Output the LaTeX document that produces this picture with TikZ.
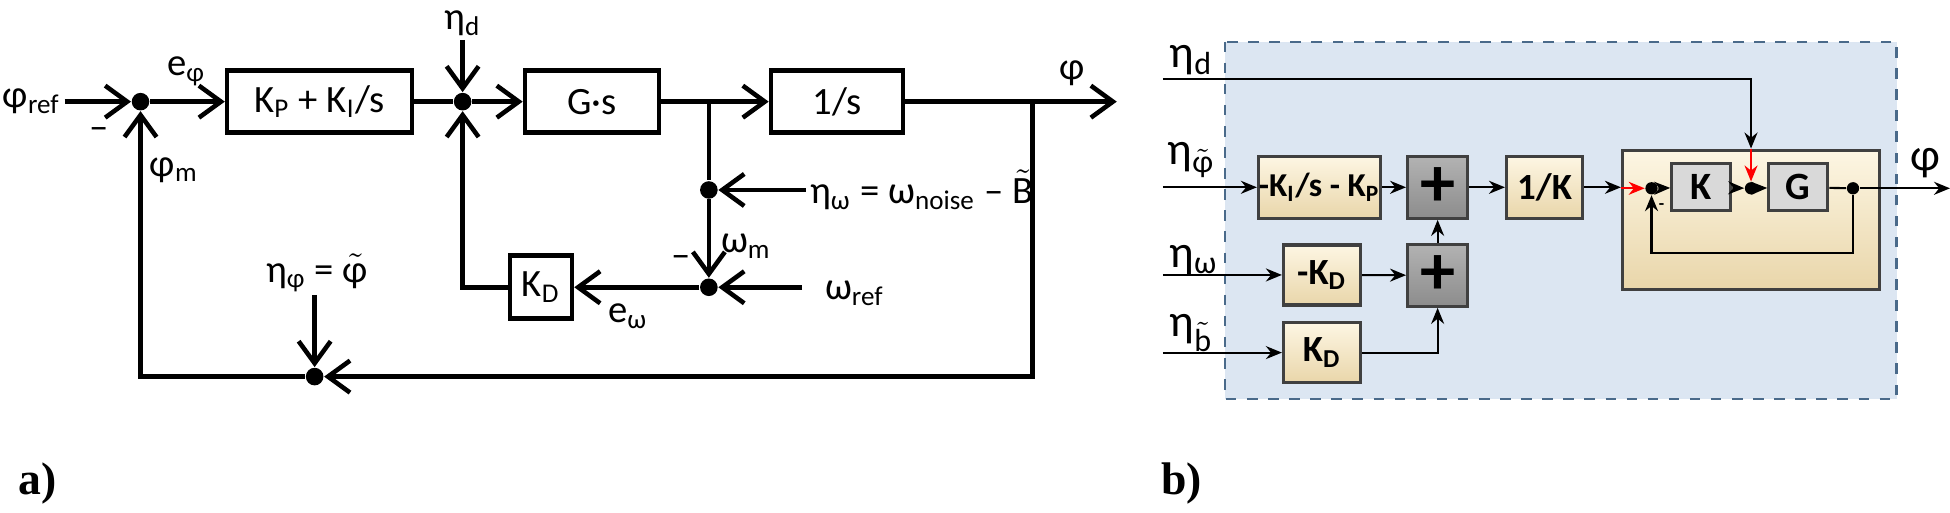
\documentclass[tikz,border=0pt]{standalone}
\usepackage{fontspec}
\setmainfont{Carlito}
\newfontfamily\serifbf{Liberation Serif}
\usetikzlibrary{arrows.meta,positioning}
\newcommand{\sub}[1]{\textsubscript{#1}}
\newcommand{\tld}[1]{\ensuremath{\tilde{\hbox{#1}}}}
\definecolor{panelblue}{HTML}{DCE6F2}
\definecolor{edgeblue}{HTML}{4A6A8A}
\definecolor{creamtop}{HTML}{FDF6E3}
\definecolor{creambot}{HTML}{E9D6AA}
\tikzset{
  sig/.style={line width=1.3pt,-{Straight Barb[length=2.2mm,width=3.2mm,line width=1.3pt]}},
  wire/.style={line width=1.3pt},
  blk/.style={draw,line width=1.3pt,inner sep=0pt,minimum height=6.2mm,font=\fontsize{11}{11}\selectfont},
  dot/.style={circle,fill,inner sep=0pt,minimum size=5pt},
  lbl/.style={font=\fontsize{11}{11}\selectfont,inner sep=1pt},
  big/.style={font=\fontsize{13}{13}\selectfont,inner sep=1pt},
  sml/.style={line width=0.6pt,-{Stealth[length=1.6mm,width=1.3mm]}},
  cream/.style={draw=black!75,line width=0.9pt,top color=creamtop,bottom color=creambot,inner sep=0pt,font=\bfseries\fontsize{10.5}{10.5}\selectfont},
  plus/.style={draw=black!75,line width=0.9pt,top color=black!30,bottom color=black!45,inner sep=0pt,minimum width=6mm,minimum height=6.2mm,font=\bfseries\fontsize{20}{20}\selectfont},
  gbox/.style={draw=black!75,line width=0.9pt,fill=black!15,inner sep=0pt,minimum width=5.9mm,minimum height=4.7mm,font=\bfseries\fontsize{11}{11}\selectfont},
  sdot/.style={circle,fill,inner sep=0pt,minimum size=3.5pt}
}
\begin{document}
\begin{tikzpicture}[x=0.12436mm,y=-0.03333mm]
\useasboundingbox (0,0) rectangle (1568,1539);

% a) cascade with derivative feedback
\coordinate (phiin) at (52,305);
\node[dot] (sum1) at (113,305) {};
\node[blk,minimum width=18.5mm] (pid) at (257,305) {K\sub{P} + K\sub{I}/s};
\node[dot] (junc) at (372,305) {};
\node[blk,minimum width=13.4mm] (gs) at (476,305) {G·s};
\coordinate (wtap) at (570,305);
\node[blk,minimum width=13.2mm] (integ) at (673,305) {1/s};
\coordinate (phitap) at (830,305);
\coordinate (phiout) at (898,305);
\coordinate (ndin) at (372,120);
\node[dot] (nwdot) at (570,570) {};
\coordinate (nwin) at (648,570);
\node[dot] (wdot) at (570,862) {};
\coordinate (wrefin) at (645,862);
\node[blk,minimum width=6.2mm,minimum height=6.3mm] (kd) at (435,862) {K\sub{D}};
\node[dot] (fbdot) at (253,1130) {};
\coordinate (npin) at (253,885);

\draw[sig] (phiin) -- (sum1);
\draw[sig] (sum1) -- (pid);
\draw[wire] (pid) -- (junc);
\draw[sig] (junc) -- (gs);
\draw[sig] (gs) -- (integ);
\draw[sig] (integ) -- (phiout);
\draw[sig] (ndin) -- (junc);
\draw[wire] (wtap) -- (nwdot);
\draw[sig] (nwdot) -- (wdot);
\draw[sig] (nwin) -- (nwdot);
\draw[sig] (wrefin) -- (wdot);
\draw[sig] (wdot) -- (kd);
\draw[sig] (kd) -| (junc);
\draw[sig] (phitap) |- (fbdot);
\draw[sig] (npin) -- (fbdot);
\draw[sig] (fbdot) -| (sum1);

\node[lbl,left] at (phiin) {φ\sub{ref}};
\node[lbl] at (150,215) {e\sub{φ}};
\node[lbl] at (80,400) {–};
\node[lbl] at (140,510) {φ\sub{m}};
\node[lbl,above] at (ndin) {η\sub{d}};
\node[lbl] at (862,220) {φ};
\node[lbl,right] at (nwin) {η\sub{ω} = ω\sub{noise} – \tld{B}};
\node[lbl] at (600,740) {ω\sub{m}};
\node[lbl] at (548,785) {–};
\node[lbl,right] at (660,880) {ω\sub{ref}};
\node[lbl] at (505,950) {e\sub{ω}};
\node[lbl] at (255,820) {η\sub{φ} = \tld{φ}};

% b) equivalent noise model
\fill[panelblue] (985,125) rectangle (1525,1198);
\draw[edgeblue,dashed,line width=0.6pt] (985,125) rectangle (1525,1198);
\node[cream,minimum width=12.2mm,minimum height=6.2mm,font=\bfseries\fontsize{9.5}{9.5}\selectfont] (pidn) at (1061,562) {-K\sub{I}/s - K\sub{P}};
\node[plus] (add1) at (1156,562) {+};
\node[cream,minimum width=7.6mm,minimum height=6.2mm] (invk) at (1242,562) {1/K};
\node[cream,minimum width=25.7mm,minimum height=13.9mm] (plant) at (1408,659) {};
\node[cream,minimum width=7.7mm,minimum height=6mm] (kdn) at (1063,825) {-K\sub{D}};
\node[plus] (add2) at (1156,826) {+};
\node[cream,minimum width=7.7mm,minimum height=6mm] (kdb) at (1063,1058) {K\sub{D}};
\node[sdot] (ksum) at (1328,565) {};
\node[gbox] (kgain) at (1368,562) {K};
\node[sdot] (dsum) at (1408,565) {};
\node[gbox] (ggain) at (1446,562) {G};
\node[sdot] (otap) at (1490,565) {};
\coordinate (ndb) at (935,237);
\coordinate (npb) at (935,562);
\coordinate (nwb) at (935,825);
\coordinate (nbb) at (935,1058);
\coordinate (phib) at (1568,565);
\coordinate (loopb) at (1490,760);

\draw[sml] (npb) -- (pidn);
\draw[sml] (pidn) -- (add1);
\draw[sml] (add1) -- (invk);
\draw[sml] (invk) -- (plant.west |- invk);
\draw[red,sml] (plant.west |- ksum) -- (ksum);
\draw[sml] (ksum) -- (kgain);
\draw[sml] (kgain) -- (dsum);
\draw[sml] (dsum) -- (ggain);
\draw[line width=0.6pt] (ggain) -- (otap);
\draw[sml] (otap) -- (phib);
\draw[sml] (otap) -- (loopb) -| (ksum);
\draw[sml] (ndb) -| (plant.north -| dsum);
\draw[red,sml] (plant.north -| dsum) -- (dsum);
\draw[sml] (nwb) -- (kdn);
\draw[sml] (kdn) -- (add2);
\draw[sml] (add2) -- (add1);
\draw[sml] (nbb) -- (kdb);
\draw[sml] (kdb) -| (add2);

\node[big] at (958,180) {η\sub{d}};
\node[big] at (958,480) {η\sub{\tld{φ}}};
\node[big] at (960,780) {η\sub{ω}};
\node[big] at (958,1000) {η\sub{\tld{b}}};
\node[big] at (1548,490) {φ};
\node[font=\bfseries\tiny,inner sep=0pt] at (1336,620) {-};

\node[font=\serifbf\bfseries\fontsize{13}{13}\selectfont] at (30,1450) {a)};
\node[font=\serifbf\bfseries\fontsize{13}{13}\selectfont] at (950,1450) {b)};
\end{tikzpicture}
\end{document}
